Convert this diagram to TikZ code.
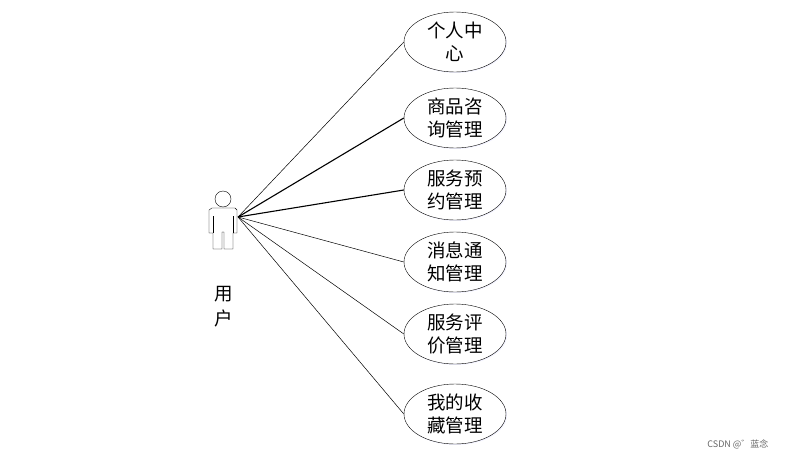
\documentclass[tikz,border=0pt]{standalone}
\usepackage{fontspec}
\newfontfamily\cjk{Noto Sans CJK SC}
\tikzset{
 uc/.style={draw,ellipse,minimum width=102pt,minimum height=60pt,inner sep=0pt,align=center,font=\cjk\fontsize{18.5}{23}\selectfont,fill=white,drop shadow={shadow xshift=1pt,shadow yshift=-1pt,fill=blue!10}},
 link/.style={draw,line width=0.5pt},
 bold/.style={draw,line width=1.1pt}
}
\usetikzlibrary{shapes.geometric,shadows}
\begin{document}
\begin{tikzpicture}[x=1pt,y=-1pt]
\useasboundingbox (0,0) rectangle (786,460);
\node[uc] (u1) at (455,42) {个人中\\心};
\node[uc] (u2) at (455,118) {商品咨\\询管理};
\node[uc] (u3) at (455,190) {服务预\\约管理};
\node[uc] (u4) at (455,262) {消息通\\知管理};
\node[uc] (u5) at (455,334) {服务评\\价管理};
\node[uc] (u6) at (455,414) {我的收\\藏管理};
\draw[fill=white] (223,199) circle (8);
\draw[fill=white] (212,208) -- (235,208) -- (237,210) -- (237,233) -- (233,233) -- (233,249) -- (224,249) -- (224,232) -- (222,232) -- (222,249) -- (213,249) -- (213,233) -- (209,233) -- (209,210) -- cycle;
\draw (213,216) -- (213,233) (233,216) -- (233,233);
\coordinate (a) at (238,217);
\node[inner sep=1pt,font=\cjk\fontsize{18.5}{25}\selectfont,align=center] (lab) at (224,307) {用\\户};
\draw[link] (a) -- (u1.west);
\draw[bold] (a) -- (u2.west);
\draw[bold] (a) -- (u3.west);
\draw[link] (a) -- (u4.west);
\draw[link] (a) -- (u5.west);
\draw[link] (a) -- (u6.west);
\node[font=\cjk\fontsize{9}{11}\selectfont,text=gray!80!black,anchor=east] (wm) at (772,444) {CSDN @゛蓝念};
\end{tikzpicture}
\end{document}
